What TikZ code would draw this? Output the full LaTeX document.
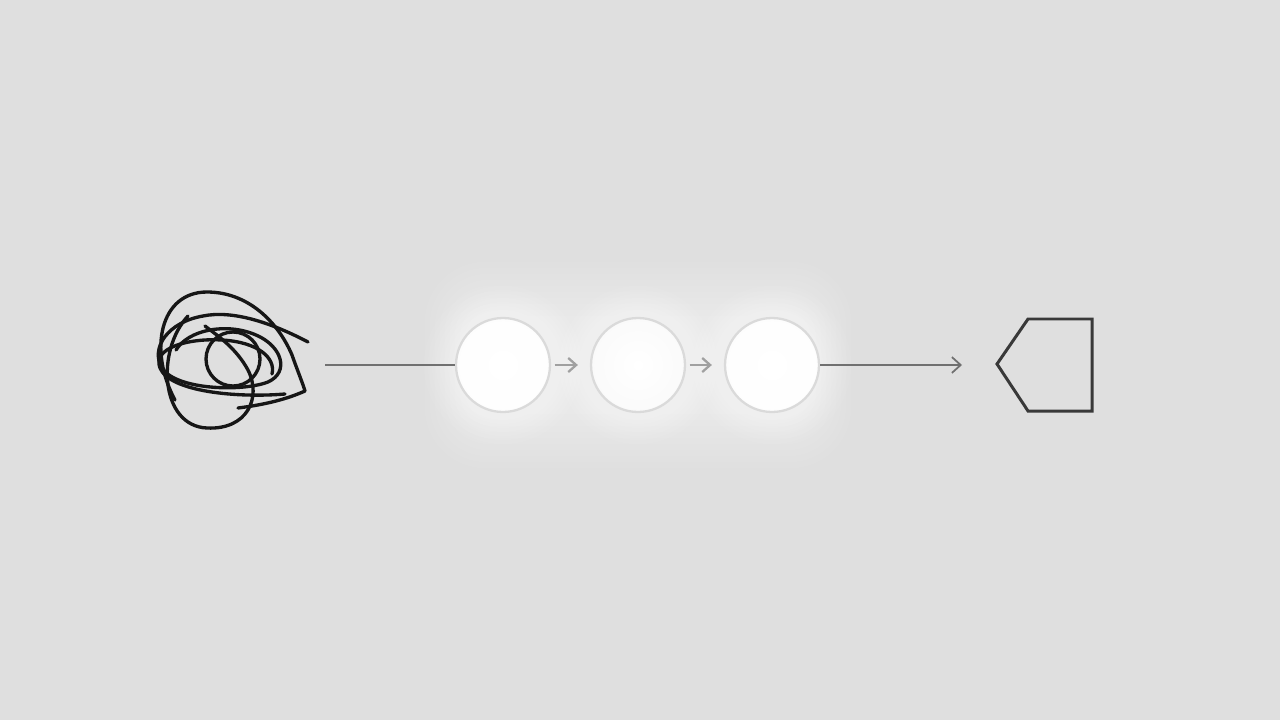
\documentclass[tikz,border=0pt]{standalone}
\usetikzlibrary{arrows.meta}
\definecolor{bg}{RGB}{223,223,223}
\definecolor{ink}{RGB}{22,22,22}
\definecolor{rim}{RGB}{218,218,218}
\definecolor{conn}{RGB}{112,112,112}
\definecolor{small}{RGB}{160,160,160}
\tikzset{
  scribble/.style={ink, line width=1.9pt, line cap=round, line join=round},
  bubble/.style={circle, inner sep=0pt, minimum size=1.88cm, draw=rim, line width=1.3pt,
    inner color=white, outer color=white!95!bg},
  fadedbubble/.style={bubble, inner color=white, outer color=white!85!bg},
  link/.style={conn, line width=1pt},
  smallarrow/.style={small, line width=1.3pt, -{Straight Barb[length=4.5pt,width=8pt]}},
  bigarrow/.style={conn, line width=1pt, -{Straight Barb[length=5pt,width=9pt]}},
  target/.style={ink!85, line width=1.7pt, line join=miter},
  glow/.style={white, opacity=0.06}
}
\begin{document}
\begin{tikzpicture}[x=0.02cm,y=-0.02cm]
\fill[bg] (0,0) rectangle (1280,720);
\useasboundingbox (0,0) rectangle (1280,720);
% glow
\foreach \k in {0,...,9}{
  \fill[glow, rounded corners={(60-4*\k)*0.02cm}] ({425+5*\k},{262+6*\k}) rectangle ({851-5*\k},{468-6*\k});
}
\foreach \cx in {503,638,772}{
  \foreach \k in {1,...,8}{
    \fill[glow] (\cx,365) circle ({47+4*\k});
  }
}
% scribble
\draw[scribble] (308,342) .. controls (270,322) and (232,310) .. (203,316)
  .. controls (168,322) and (150,348) .. (162,368)
  .. controls (176,390) and (242,392) .. (268,382)
  .. controls (290,372) and (282,346) .. (256,335)
  .. controls (226,322) and (188,330) .. (176,350);
\draw[scribble] (175,400) .. controls (148,350) and (160,292) .. (207,292)
  .. controls (248,292) and (278,322) .. (292,355)
  .. controls (298,372) and (303,384) .. (305,391)
  .. controls (285,400) and (262,405) .. (238,408);
\draw[scribble] (188,316) .. controls (156,350) and (160,426) .. (207,428)
  .. controls (247,430) and (262,398) .. (248,370)
  .. controls (236,348) and (218,336) .. (205,326);
\draw[scribble] (233,359) ellipse (27 and 27);
\draw[scribble] (285,394) .. controls (238,398) and (170,392) .. (160,368)
  .. controls (152,348) and (188,338) .. (222,340)
  .. controls (258,342) and (276,358) .. (272,374);
\coordinate (s) at (325,365);
% bubbles
\node[bubble] (c1) at (503,365) {};
\node[fadedbubble] (c2) at (638,365) {};
\node[bubble] (c3) at (772,365) {};
\coordinate (pe) at (962,365);
% connectors
\draw[link] (s) -- (c1.west);
\draw[smallarrow, shorten <=2pt, shorten >=0.24cm] (c1.east) -- (c2.west);
\draw[smallarrow, shorten <=2pt, shorten >=0.24cm] (c2.east) -- (c3.west);
\draw[bigarrow] (c3.east) -- (pe);
% target pentagon
\coordinate (t) at (997,364);
\draw[target] (t) -- (1028,319) -- (1092,319) -- (1092,411) -- (1028,411) -- cycle;
\end{tikzpicture}
\end{document}
